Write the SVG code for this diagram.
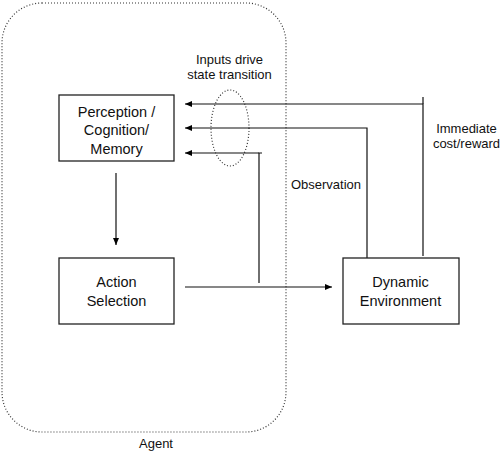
<svg xmlns="http://www.w3.org/2000/svg" width="500" height="455" viewBox="0 0 500 455">
<defs>
<marker id="ah" markerWidth="8" markerHeight="8" refX="7" refY="4" orient="auto" markerUnits="userSpaceOnUse">
<path d="M0,1 L7,4 L0,7 Z" fill="#000"/>
</marker>
<style>
text{font-family:"Liberation Sans",Arial,sans-serif;font-size:13px;fill:#111;text-anchor:middle}
.n{font-size:14.5px}
.box{fill:#fff;stroke:#222;stroke-width:1.3}
.ln{fill:none;stroke:#111;stroke-width:1.2}
.dot{fill:none;stroke:#333;stroke-width:1.2;stroke-dasharray:1 2}
</style>
</defs>
<rect width="500" height="455" fill="#fff"/>
<g id="agent">
<rect class="dot" x="2" y="3" width="284" height="429" rx="40" ry="40"/>
<text x="156" y="448">Agent</text>
</g>
<g id="inputs">
<ellipse class="dot" cx="230" cy="128" rx="19" ry="38"/>
<text x="229.5" y="63.5">Inputs drive</text>
<text x="229.5" y="78.5">state transition</text>
</g>
<g id="connectors">
<line class="ln" x1="116" y1="173" x2="116" y2="245" marker-end="url(#ah)"/>
<line class="ln" x1="185" y1="287" x2="332" y2="287" marker-end="url(#ah)"/>
<polyline class="ln" points="259,283 259,153 262,153"/>
<line class="ln" x1="259" y1="153" x2="185" y2="153" marker-end="url(#ah)"/>
<polyline class="ln" points="367,259 367,128 185,128" marker-end="url(#ah)"/>
<polyline class="ln" points="423,256 423,104 185,104" marker-end="url(#ah)"/>
<line class="ln" x1="423" y1="104" x2="423" y2="97"/>
</g>
<g id="perception">
<rect class="box" x="59" y="95" width="115" height="66"/>
<text class="n" x="116.5" y="116.5">Perception /</text>
<text class="n" x="116.5" y="135">Cognition/</text>
<text class="n" x="116.5" y="153.5">Memory</text>
</g>
<g id="action">
<rect class="box" x="59" y="258" width="115" height="66"/>
<text class="n" x="116.5" y="286.5">Action</text>
<text class="n" x="116.5" y="306">Selection</text>
</g>
<g id="environment">
<rect class="box" x="343" y="258" width="116" height="66"/>
<text class="n" x="400.5" y="286.5">Dynamic</text>
<text class="n" x="400.5" y="306">Environment</text>
</g>
<g id="labels">
<text x="326" y="189">Observation</text>
<text x="466.5" y="133">Immediate</text>
<text x="466.5" y="148">cost/reward</text>
</g>
</svg>
